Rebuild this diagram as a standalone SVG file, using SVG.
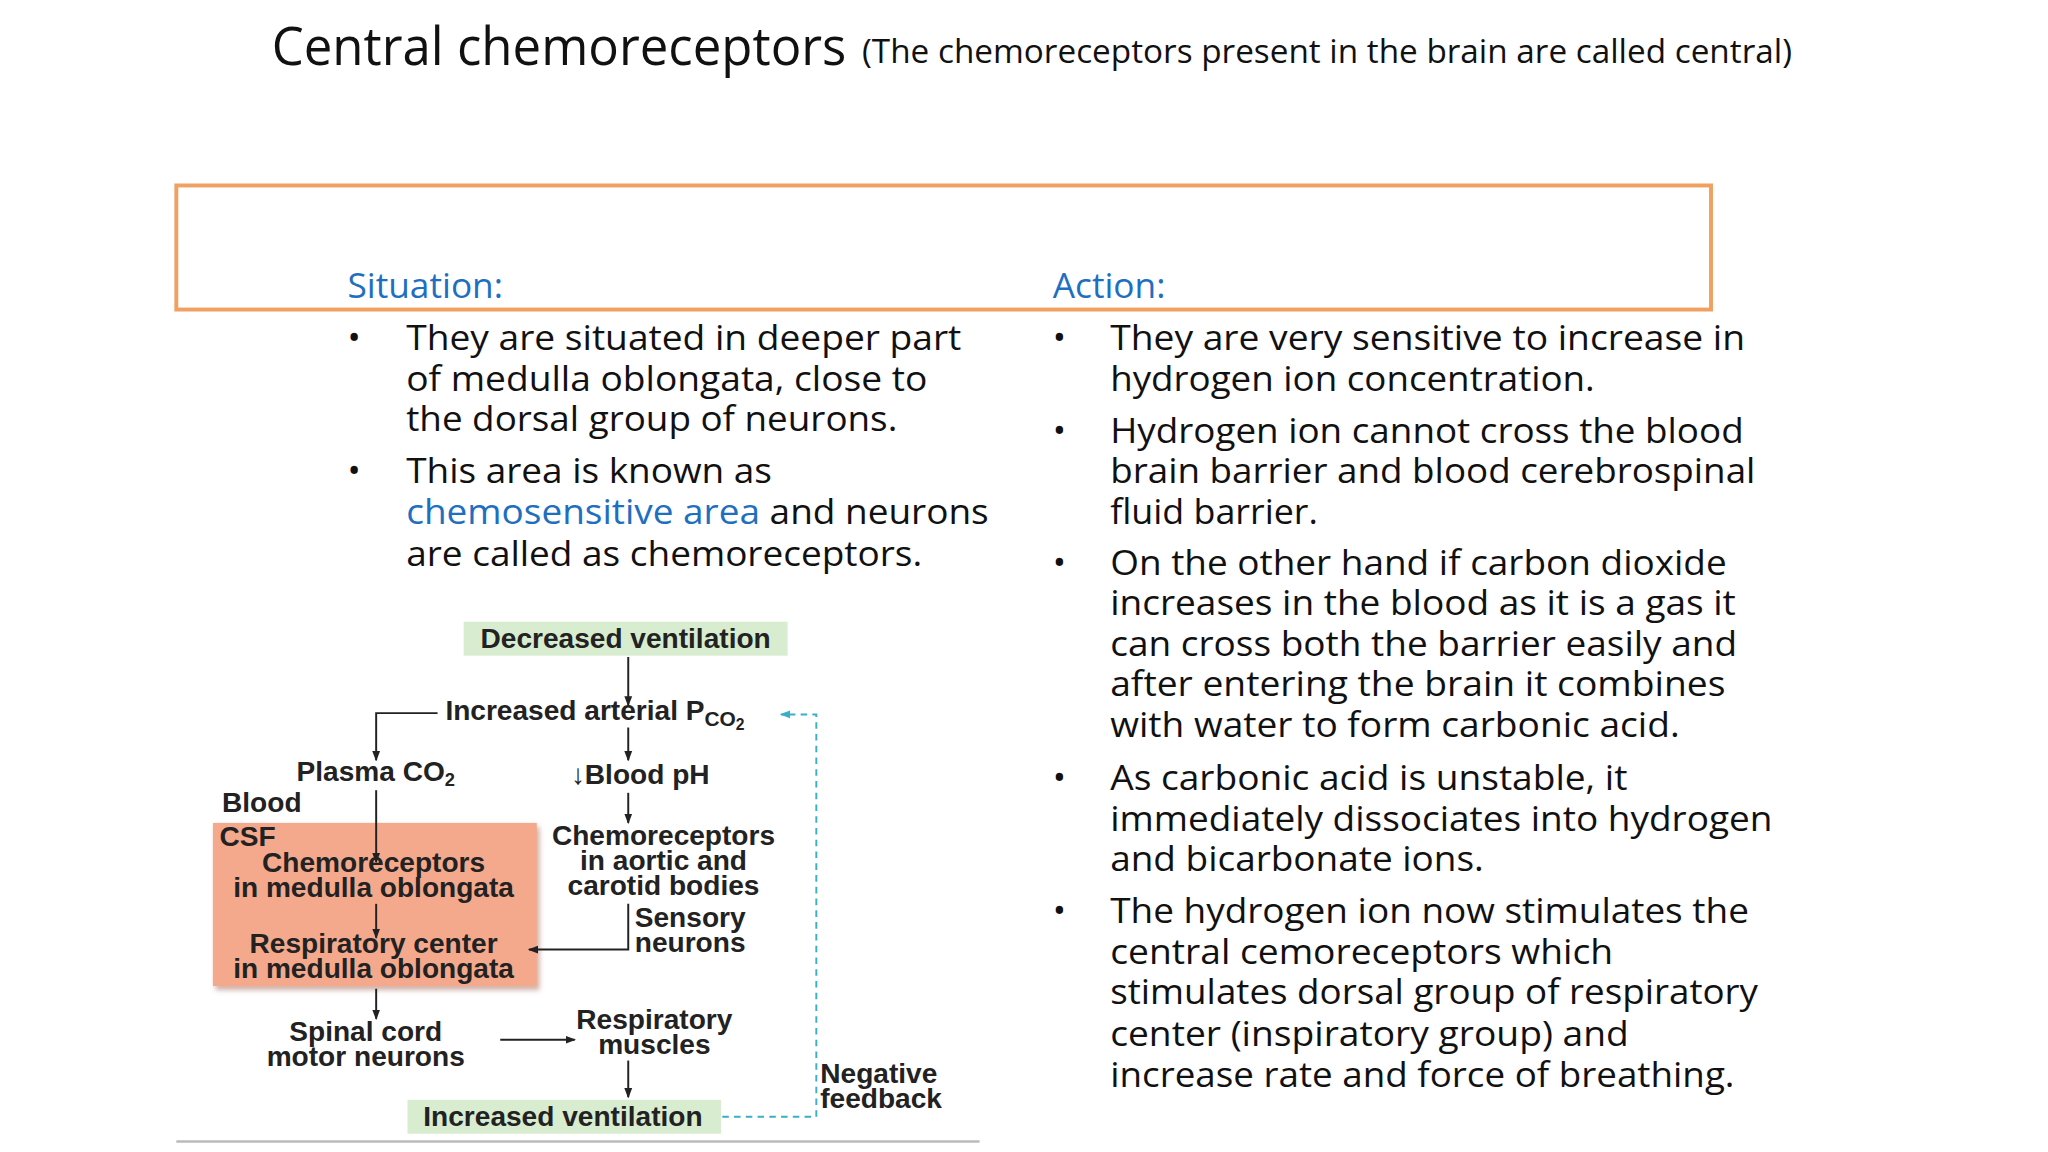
<svg xmlns="http://www.w3.org/2000/svg" width="2048" height="1152" viewBox="0 0 2048 1152">
<defs>
<marker id="ah" markerWidth="8" markerHeight="8" refX="7" refY="4" orient="auto" markerUnits="userSpaceOnUse"><path d="M0,1 L8,4 L0,7 z" fill="#222"/></marker>
<marker id="ahc" markerWidth="8" markerHeight="8" refX="7" refY="4" orient="auto" markerUnits="userSpaceOnUse"><path d="M0,1 L8,4 L0,7 z" fill="#3ab0c8"/></marker>
<filter id="sh"><feDropShadow dx="2" dy="3" stdDeviation="2" flood-color="#a06050" flood-opacity="0.5"/></filter>
</defs>
<style>
.t{font-family:"Open Sans","Liberation Sans",sans-serif;fill:#111}
.b{font-size:27px}
.h{font-size:27px;fill:#1f6fc0}
.f{font-family:"Liberation Sans",Arial,sans-serif;font-weight:bold;font-size:21.5px;fill:#222}
.l{stroke:#222;stroke-width:1.5;fill:none}
.d{stroke:#3ab0c8;stroke-width:1.5;fill:none;stroke-dasharray:5,4}
</style>
<rect width="2048" height="1152" fill="#fff"/>
<g transform="scale(1.30612)">
<g id="title">
<text class="t" x="208" y="50" font-size="40" textLength="440" lengthAdjust="spacingAndGlyphs">Central chemoreceptors</text>
<text class="t" x="660" y="48" font-size="25" textLength="712" lengthAdjust="spacingAndGlyphs">(The chemoreceptors present in the brain are called central)</text>
</g>
<g id="header">
<rect x="135" y="142" width="1175" height="95" fill="none" stroke="#f0a060" stroke-width="3"/>
<text class="t h" x="266" y="228">Situation:</text>
<text class="t h" x="806" y="228">Action:</text>
</g>
<g id="left" class="t b">
<text x="266" y="268">•</text><text x="311" y="268" textLength="425" lengthAdjust="spacingAndGlyphs">They are situated in deeper part</text>
<text x="311" y="299" textLength="399" lengthAdjust="spacingAndGlyphs">of medulla oblongata, close to</text>
<text x="311" y="330" textLength="376" lengthAdjust="spacingAndGlyphs">the dorsal group of neurons.</text>
<text x="266" y="370">•</text><text x="311" y="370" textLength="280" lengthAdjust="spacingAndGlyphs">This area is known as</text>
<text x="311" y="401" textLength="446" lengthAdjust="spacingAndGlyphs"><tspan fill="#1f6fc0">chemosensitive area</tspan> and neurons</text>
<text x="311" y="433" textLength="395" lengthAdjust="spacingAndGlyphs">are called as chemoreceptors.</text>
</g>
<g id="right" class="t b">
<text x="806" y="268">•</text><text x="850" y="268" textLength="486" lengthAdjust="spacingAndGlyphs">They are very sensitive to increase in</text>
<text x="850" y="299" textLength="371" lengthAdjust="spacingAndGlyphs">hydrogen ion concentration.</text>
<text x="806" y="339">•</text><text x="850" y="339" textLength="485" lengthAdjust="spacingAndGlyphs">Hydrogen ion cannot cross the blood</text>
<text x="850" y="370" textLength="494" lengthAdjust="spacingAndGlyphs">brain barrier and blood cerebrospinal</text>
<text x="850" y="401" textLength="159" lengthAdjust="spacingAndGlyphs">fluid barrier.</text>
<text x="806" y="440">•</text><text x="850" y="440" textLength="472" lengthAdjust="spacingAndGlyphs">On the other hand if carbon dioxide</text>
<text x="850" y="471" textLength="479" lengthAdjust="spacingAndGlyphs">increases in the blood as it is a gas it</text>
<text x="850" y="502" textLength="480" lengthAdjust="spacingAndGlyphs">can cross both the barrier easily and</text>
<text x="850" y="533" textLength="471" lengthAdjust="spacingAndGlyphs">after entering the brain it combines</text>
<text x="850" y="564" textLength="436" lengthAdjust="spacingAndGlyphs">with water to form carbonic acid.</text>
<text x="806" y="605">•</text><text x="850" y="605" textLength="396" lengthAdjust="spacingAndGlyphs">As carbonic acid is unstable, it</text>
<text x="850" y="636" textLength="507" lengthAdjust="spacingAndGlyphs">immediately dissociates into hydrogen</text>
<text x="850" y="667" textLength="286" lengthAdjust="spacingAndGlyphs">and bicarbonate ions.</text>
<text x="806" y="707">•</text><text x="850" y="707" textLength="489" lengthAdjust="spacingAndGlyphs">The hydrogen ion now stimulates the</text>
<text x="850" y="738" textLength="385" lengthAdjust="spacingAndGlyphs">central cemoreceptors which</text>
<text x="850" y="769" textLength="496" lengthAdjust="spacingAndGlyphs">stimulates dorsal group of respiratory</text>
<text x="850" y="801" textLength="397" lengthAdjust="spacingAndGlyphs">center (inspiratory group) and</text>
<text x="850" y="832" textLength="478" lengthAdjust="spacingAndGlyphs">increase rate and force of breathing.</text>
</g>
<line x1="135" y1="874" x2="750" y2="874" stroke="#bbb" stroke-width="2"/>
<g id="csfbox"><rect x="163" y="630" width="248" height="125" fill="#f4a98c" filter="url(#sh)"/>
<text class="f" x="168" y="648">CSF</text></g>
<g id="decvent"><rect x="355" y="476" width="248" height="26" fill="#d8ecd0"/><text class="f" x="479" y="496" text-anchor="middle">Decreased ventilation</text></g>
<g id="pco2"><text class="f" x="341" y="551">Increased arterial P<tspan font-size="16" dy="5">CO</tspan><tspan font-size="12" dy="3">2</tspan></text></g>
<g id="plasma"><text class="f" x="227" y="598">Plasma CO<tspan font-size="14" dy="4">2</tspan></text><text class="f" x="170" y="622">Blood</text></g>
<g id="ph"><text class="f" x="437" y="600">↓Blood pH</text></g>
<g id="chemomed"><text class="f" x="286" y="668" text-anchor="middle">Chemoreceptors</text><text class="f" x="286" y="687" text-anchor="middle">in medulla oblongata</text></g>
<g id="resp"><text class="f" x="286" y="730" text-anchor="middle">Respiratory center</text><text class="f" x="286" y="749" text-anchor="middle">in medulla oblongata</text></g>
<g id="chemoaortic"><text class="f" x="508" y="647" text-anchor="middle">Chemoreceptors</text><text class="f" x="508" y="666" text-anchor="middle">in aortic and</text><text class="f" x="508" y="685" text-anchor="middle">carotid bodies</text></g>
<g id="sensory"><text class="f" x="486" y="710">Sensory</text><text class="f" x="486" y="729">neurons</text></g>
<g id="spinal"><text class="f" x="280" y="797" text-anchor="middle">Spinal cord</text><text class="f" x="280" y="816" text-anchor="middle">motor neurons</text></g>
<g id="muscles"><text class="f" x="501" y="788" text-anchor="middle">Respiratory</text><text class="f" x="501" y="807" text-anchor="middle">muscles</text></g>
<g id="incvent"><rect x="312" y="842" width="240" height="26" fill="#d8ecd0"/><text class="f" x="431" y="862" text-anchor="middle">Increased ventilation</text></g>
<g id="negfb"><text class="f" x="628" y="829">Negative</text><text class="f" x="628" y="848">feedback</text></g>
<g id="connectors">
<path class="l" d="M481,503 V540" marker-end="url(#ah)"/>
<path class="l" d="M335,546 H288 V582" marker-end="url(#ah)"/>
<path class="l" d="M481,557 V582" marker-end="url(#ah)"/>
<path class="l" d="M288,605 V660" marker-end="url(#ah)"/>
<path class="l" d="M288,692 V718" marker-end="url(#ah)"/>
<path class="l" d="M288,757 V780" marker-end="url(#ah)"/>
<path class="l" d="M481,607 V630" marker-end="url(#ah)"/>
<path class="l" d="M481,692 V727 H405" marker-end="url(#ah)"/>
<path class="l" d="M383,796 H440" marker-end="url(#ah)"/>
<path class="l" d="M481,812 V840" marker-end="url(#ah)"/>
<path class="d" d="M553,855 H625 V547 H598" marker-end="url(#ahc)"/>
</g>
</g>
</svg>
